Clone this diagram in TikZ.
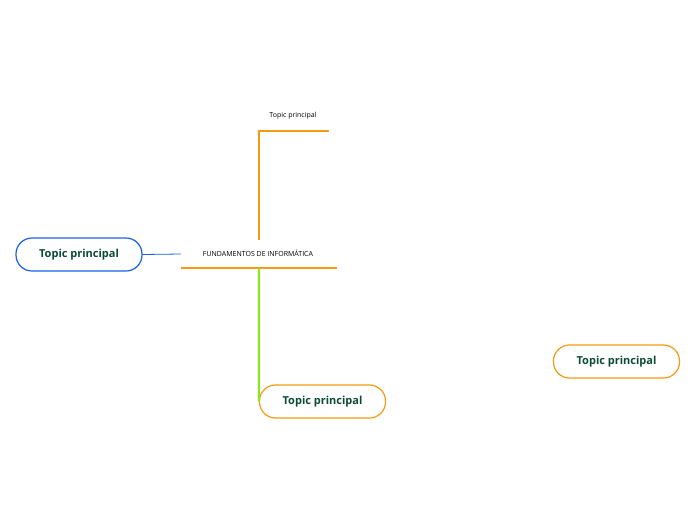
\documentclass[tikz,border=0pt]{standalone}
\usepackage{fontspec}
\setmainfont{Open Sans}
\definecolor{mblue}{HTML}{1A5FE8}
\definecolor{morange}{HTML}{F59A12}
\definecolor{mgreen}{HTML}{88E818}
\definecolor{mtext}{HTML}{0B4A35}
\begin{document}
\begin{tikzpicture}[x=1pt,y=-1pt,
  topicbox/.style={draw,rounded corners=16pt,line width=1.2pt,minimum width=126pt,minimum height=33pt,font=\bfseries\fontsize{11}{13}\selectfont,text=mtext,inner sep=0pt},
  small/.style={font=\fontsize{7}{9}\selectfont,text=black,inner sep=1pt}]
\useasboundingbox (0,0) rectangle (696,520);
\node[small] (c) at (258,253) {FUNDAMENTOS DE INFORMÁTICA};
\coordinate (cl) at (181,268); \coordinate (cr) at (337,268);
\draw[morange,line width=2pt] (cl) -- (cr);
\node[small] (t) at (293,116) {Topic principal};
\coordinate (tl) at (259,131); \coordinate (tr) at (329,131);
\coordinate (tb) at (259,240);
\draw[morange,line width=2pt] (tb) -- (tl) -- (tr);
\node[topicbox,draw=mblue] (b) at (79,254.5) {Topic principal};
\coordinate (bl) at (181,254);
\draw[mblue,line width=0.8pt] (b.east) -- (bl);
\node[topicbox,draw=morange] (o) at (322.5,401.5) {Topic principal};
\coordinate (gt) at (259,268);
\draw[mgreen,line width=2pt] (gt) -- (o.west);
\node[topicbox,draw=morange] (r) at (616.5,361.5) {Topic principal};
\end{tikzpicture}
\end{document}
